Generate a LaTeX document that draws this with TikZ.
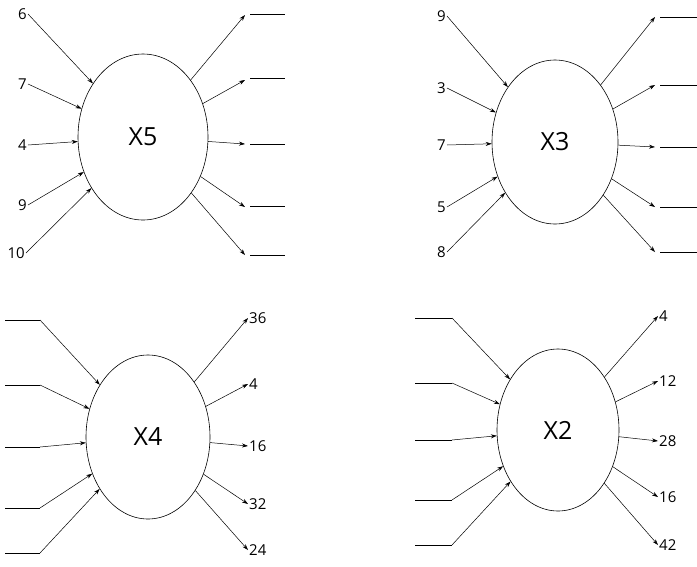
\documentclass[tikz,border=0pt]{standalone}
\usepackage{fontspec}
\setmainfont{Open Sans}
\usetikzlibrary{shapes.geometric,arrows.meta}
\begin{document}
\begin{tikzpicture}[x=1pt,y=-1pt,
  blob/.style={ellipse,draw,line width=0.6pt,font=\fontsize{25}{27}\selectfont},
  num/.style={font=\fontsize{15}{17}\selectfont,inner sep=1pt},
  arr/.style={-{Stealth[length=6pt,width=4pt]},line width=0.5pt},
  blank/.style={line width=0.6pt}]
\useasboundingbox (0,0) rectangle (697,566);
% X5
\node[blob,minimum width=130pt,minimum height=166pt] (A) at (143,137) {X5};
\foreach \t/\x/\y/\n in {6/22/14/a1,7/22/84/a2,4/22/145/a3,9/22/205/a4,10/20/253/a5}
  {\node[num,anchor=east] (\n) at (\x+6,\y) {\t}; \draw[arr] (\n.east) -- (A);}
\foreach \y/\ex/\ey/\n in {14/245/15/b1,78/245/80/b2,144/245/144/b3,206/245/207/b4,255/245/255/b5}
  {\coordinate (\n) at (\ex,\ey); \draw[arr] (A) -- (\n); \draw[blank] (250,\y) coordinate (\n s) -- (285,\y) coordinate (\n e);}
% X3
\node[blob,minimum width=126pt,minimum height=164pt] (B) at (555,142) {X3};
\foreach \t/\y/\n in {9/16/c1,3/88/c2,7/145/c3,5/207/c4,8/252/c5}
  {\node[num,anchor=east] (\n) at (447,\y) {\t}; \draw[arr] (\n.east) -- (B);}
\foreach \y/\n in {17/d1,85/d2,147/d3,207/d4,252/d5}
  {\coordinate (\n) at (655,\y); \draw[arr] (B) -- (\n); \draw[blank] (660,\y) coordinate (\n s) -- (697,\y) coordinate (\n e);}
% X4
\node[blob,minimum width=124pt,minimum height=164pt] (C) at (148,437) {X4};
\foreach \y/\n in {320/e1,385/e2,447/e3,508/e4,553/e5}
  {\draw[blank] (5,\y) coordinate (\n s) -- (40,\y) coordinate (\n); \draw[arr] (\n) -- (C);}
\foreach \t/\x/\y/\n in {36/248/318/f1,4/248/384/f2,16/248/446/f3,32/248/504/f4,24/248/550/f5}
  {\node[num,anchor=west] (\n) at (\x,\y) {\t}; \draw[arr] (C) -- (\n.west);}
% X2
\node[blob,minimum width=122pt,minimum height=162pt] (D) at (558,430) {X2};
\foreach \y/\n in {318/g1,383/g2,440/g3,500/g4,545/g5}
  {\draw[blank] (415,\y) coordinate (\n s) -- (452,\y) coordinate (\n); \draw[arr] (\n) -- (D);}
\foreach \t/\y/\n in {4/316/h1,12/381/h2,28/441/h3,16/497/h4,42/545/h5}
  {\node[num,anchor=west] (\n) at (658,\y) {\t}; \draw[arr] (D) -- (\n.west);}
\end{tikzpicture}
\end{document}
